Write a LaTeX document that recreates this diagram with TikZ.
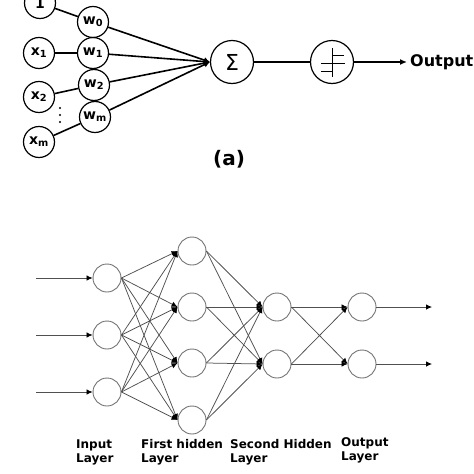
\documentclass[tikz,border=0pt]{standalone}
\usepackage{fontspec}
\setmainfont{DejaVu Sans}
\usetikzlibrary{arrows.meta}
\definecolor{netgray}{RGB}{80,80,80}
\definecolor{ringgray}{RGB}{115,115,115}

\tikzset{
    unit/.style={circle, draw, line width=1.2pt, inner sep=0pt, minimum size=31pt,
        font=\fontsize{14}{16}\selectfont\bfseries},
    bigunit/.style={unit, minimum size=43pt},
    wire/.style={line width=1.6pt},
    ring/.style={circle, draw=ringgray, line width=0.9pt, inner sep=0pt, minimum size=28pt},
    link/.style={draw=netgray, line width=0.75pt, -{Latex[length=6pt,width=5.5pt,color=black]}},
    layername/.style={anchor=west, align=left, inner sep=0pt,
        font=\fontsize{12}{14}\selectfont\bfseries}
}

\begin{document}
\begin{tikzpicture}[x=1pt, y=-1pt]

% Frame
\useasboundingbox (0,0) rectangle (474,474);
\clip (0,0) rectangle (474,474);

% (a) inputs and weights
\node[unit] (one) at (40,3) {\raisebox{-4.5pt}{1}};
\foreach \n/\y in {1/53, 2/97, m/142} {
    \node[unit] (x\n) at (39,\y) {x\textsubscript{\n}};
}
\foreach \n/\x/\y in {0/93/22, 1/93/53, 2/94/85, m/95/117} {
    \node[unit] (w\n) at (\x,\y) {w\textsubscript{\n}};
}
\foreach \y in {108,115,122} {
    \fill (60,\y) circle (1.1pt);
}

% Summation and step
\node[bigunit, font=\fontsize{22}{24}\selectfont] (sum) at (232,62) {Σ};
\node[bigunit] (act) at (332,62) {};
\draw[line width=1pt] ([shift={(0,-14)}]act.center) -- ([shift={(0,15)}]act.center);
\draw[line width=1pt] ([shift={(1,-7)}]act.center) -- ([shift={(12,-7)}]act.center);
\draw[line width=1pt] ([shift={(-11,1)}]act.center) -- ([shift={(13,1)}]act.center);
\draw[line width=1pt] ([shift={(-11,9)}]act.center) -- ([shift={(0,9)}]act.center);
\node[anchor=west, inner sep=3pt, font=\fontsize{16}{19}\selectfont\bfseries] (outtxt) at (407,62) {Output};
\node[font=\fontsize{20}{24}\selectfont\bfseries] (tagA) at (229,159) {(a)};

% (a) connections
\foreach \a/\b in {one/w0, x1/w1, x2/w2, xm/wm} {
    \draw[wire] (\a) -- (\b);
}
\foreach \w in {w0,w1,w2,wm} {
    \draw[wire, -{Latex[length=6pt,width=6pt]}] (\w) -- (sum.west);
}
\draw[wire] (sum) -- (act);
\draw[wire, -{Latex[length=7pt,width=6pt]}] (act) -- (outtxt);

% Network layers
\foreach \i/\y in {1/278, 2/335, 3/392} {
    \node[ring] (in\i) at (107,\y) {};
    \coordinate (src\i) at (36,\y);
    \draw[link] (src\i) -- (in\i);
}
\foreach \i/\y in {1/251, 2/307, 3/363, 4/420} {
    \node[ring] (ha\i) at (192,\y) {};
}
\foreach \i/\y in {1/307, 2/364} {
    \node[ring] (hb\i) at (277,\y) {};
    \node[ring] (out\i) at (362,\y) {};
    \coordinate (dst\i) at (432,\y);
    \draw[link] (out\i) -- (dst\i);
}

% Network connections
\foreach \i in {1,2,3} {
    \foreach \j in {1,2,3,4} {
        \draw[link] (in\i.east) -- (ha\j.west);
    }
}
\foreach \i in {1,2,3,4} {
    \foreach \j in {1,2} {
        \draw[link] (ha\i.east) -- (hb\j.west);
    }
}
\foreach \i in {1,2} {
    \foreach \j in {1,2} {
        \draw[link] (hb\i.east) -- (out\j.west);
    }
}

% Layer names
\node[layername] (nameIn) at (76,452) {Input\\Layer};
\node[layername] (nameHa) at (141,452) {First hidden\\Layer};
\node[layername] (nameHb) at (230,452) {Second Hidden\\Layer};
\node[layername] (nameOut) at (341,450) {Output\\Layer};

\end{tikzpicture}
\end{document}
